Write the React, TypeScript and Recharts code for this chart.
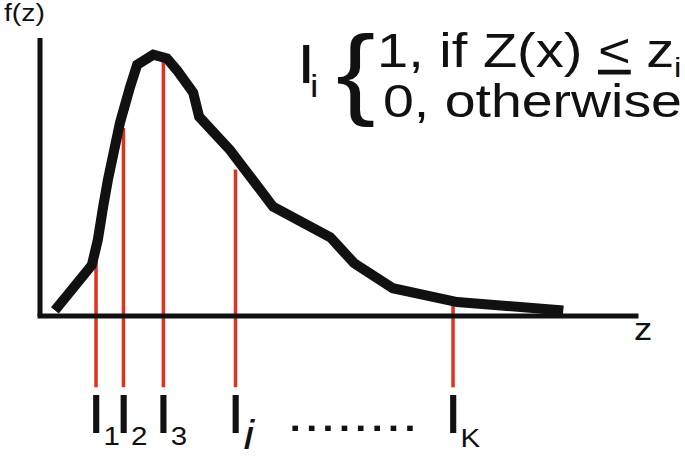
import { ComposedChart, Line, XAxis, YAxis, ReferenceLine } from 'recharts'

// density curve f(z)
const zValues = [0.25, 0.87, 0.97, 1.06, 1.14, 1.34, 1.51, 1.63, 1.9, 2.13, 2.3, 2.57, 2.67, 3.19, 3.91, 4.87, 5.27, 5.92, 7.0, 8.78]
const fValues = [0.006, 0.055, 0.082, 0.118, 0.147, 0.208, 0.247, 0.271, 0.282, 0.278, 0.265, 0.241, 0.215, 0.179, 0.118, 0.085, 0.057, 0.03, 0.015, 0.006]

// indicator thresholds z_k
const indicatorSubs = ['1', '2', '3', 'i', 'K']
const indicatorZ = [0.94, 1.4, 2.07, 3.28, 6.93]
const indicatorTop = [0.068, 0.203, 0.274, 0.158, 0.012]
const indicatorBottom = -0.077

const data = zValues.map((z, i) => ({ z, f: fValues[i] }))

const FONT = "'Liberation Sans', Arial, Helvetica, sans-serif"
const INK = '#111'
const RED = '#e0321f'
const SX = 1.18 // the lettering in the picture is a little stretched

function T({ x, y, size, italic, children }: { x: number; y: number; size: number; italic?: boolean; children: any }) {
  return (
    <text
      transform={`translate(${x} ${y}) scale(${SX} 1)`}
      fontSize={size}
      fontFamily={FONT}
      fontStyle={italic ? 'italic' : 'normal'}
      fill={INK}
    >
      {children}
    </text>
  )
}

const indicatorLabel = (sub: string) => (props: any) => {
  const vb = props.viewBox || {}
  const cx = vb.x
  const bottom = vb.y + vb.height
  const x0 = cx - 9
  const italic = sub === 'i'
  return (
    <g>
      <T x={x0} y={bottom + 46} size={56}>I</T>
      <T x={x0 + (italic ? 17 : 16.5)} y={bottom + (italic ? 62 : sub === 'K' ? 60 : 58)} size={italic ? 40 : 25} italic={italic}>
        {sub}
      </T>
    </g>
  )
}

export default function App() {
  return (
    <div style={{ position: 'absolute', left: 0, top: 0, width: 685, height: 456, background: '#fff' }}>
      <ComposedChart width={685} height={456} data={data} margin={{ top: 38, right: 49, bottom: 139, left: 39 }}>
        <XAxis
          type="number"
          dataKey="z"
          domain={[0, 10]}
          height={1}
          tick={false}
          tickLine={false}
          axisLine={{ stroke: INK, strokeWidth: 5, strokeLinecap: 'square' }}
        />
        <YAxis
          type="number"
          domain={[0, 0.3]}
          width={1}
          tick={false}
          tickLine={false}
          axisLine={{ stroke: INK, strokeWidth: 5 }}
        />
        {indicatorZ.map((z, i) => (
          <ReferenceLine
            key={indicatorSubs[i]}
            segment={[{ x: z, y: indicatorTop[i] }, { x: z, y: indicatorBottom }]}
            stroke={RED}
            strokeWidth={3.5}
            ifOverflow="visible"
            label={indicatorLabel(indicatorSubs[i])}
          />
        ))}
        <Line
          type="linear"
          dataKey="f"
          stroke={INK}
          strokeWidth={10}
          strokeLinejoin="miter"
          strokeLinecap="butt"
          dot={false}
          activeDot={false}
          isAnimationActive={false}
        />
      </ComposedChart>
      <svg width={685} height={456} style={{ position: 'absolute', left: 0, top: 0, pointerEvents: 'none' }}>
        <T x={4} y={21} size={24}>f(z)</T>
        <T x={634} y={340} size={31}>z</T>
        <T x={287} y={431} size={50}>........</T>
        <T x={297} y={83} size={56}>I</T>
        <T x={310} y={97} size={32}>i</T>
        <T x={336} y={106} size={100}>{'{'}</T>
        <T x={377} y={67} size={47.5}>
          1, if Z(x) <tspan style={{ textDecoration: 'underline' }}>{'<'}</tspan> z
        </T>
        <T x={674} y={77} size={28}>i</T>
        <T x={383} y={117} size={47}>0, otherwise</T>
      </svg>
    </div>
  )
}
